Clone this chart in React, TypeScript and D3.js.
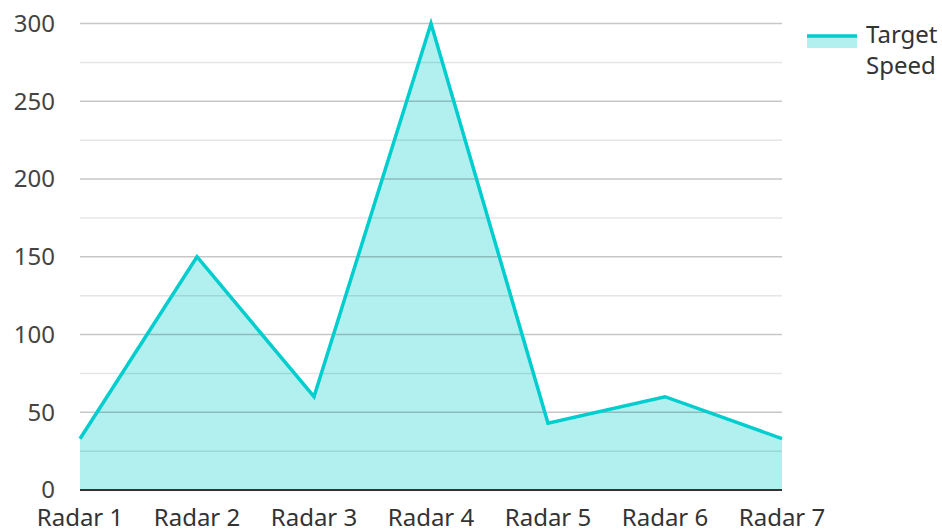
import * as d3 from "d3";

const categories = ["Radar 1", "Radar 2", "Radar 3", "Radar 4", "Radar 5", "Radar 6", "Radar 7"];
const speeds = [33, 150, 60, 300, 43, 60, 33];
const majorTicks = [0, 50, 100, 150, 200, 250, 300];
const minorTicks = [25, 75, 125, 175, 225, 275];
const seriesName = ["Target", "Speed"];

export default function App() {
    const width = 942;
    const height = 531;
    const marginLeft = 80;
    const marginRight = 160;
    const marginTop = 23.5;
    const marginBottom = 41;
    const color = "#00cdce";

    const x = d3.scalePoint(categories, [marginLeft, width - marginRight]);
    const y = d3.scaleLinear([0, 300], [height - marginBottom, marginTop]);
    const area = d3.area((_, i) => x(categories[i]), y(0), (d) => y(d));
    const line = d3.line((_, i) => x(categories[i]), (d) => y(d));
    const font = "'Noto Sans', 'Open Sans', sans-serif";

    return (
        <svg width={width} height={height} style={{ position: "absolute", left: 0, top: 0 }} fontFamily={font}>
            <path d={area(speeds)} fill={color} fillOpacity={0.3} />
            <g strokeWidth={1.5}>
                {minorTicks.map((t) => (
                    <line key={t} x1={marginLeft} x2={width - marginRight} y1={y(t)} y2={y(t)} stroke="#000" strokeOpacity={0.1} />
                ))}
                {majorTicks.slice(1).map((t) => (
                    <line key={t} x1={marginLeft} x2={width - marginRight} y1={y(t)} y2={y(t)} stroke="#000" strokeOpacity={0.22} />
                ))}
            </g>
            <line x1={marginLeft} x2={width - marginRight} y1={y(0)} y2={y(0)} stroke="#333" strokeWidth={2} />
            <path d={line(speeds)} fill="none" stroke={color} strokeWidth={3.5} strokeLinejoin="miter" />
            <g fontSize={24} fill="#444" textAnchor="end">
                {majorTicks.map((t) => (
                    <text key={t} x={55} y={y(t)} dy="0.35em">{t}</text>
                ))}
            </g>
            <g fontSize={24} fill="#333" textAnchor="middle">
                {categories.map((c) => (
                    <text key={c} x={x(c)} y={height - 5}>{c}</text>
                ))}
            </g>
            <g>
                <rect x={807} y={35} width={50} height={13} fill={color} fillOpacity={0.3} />
                <line x1={807} x2={857} y1={36} y2={36} stroke={color} strokeWidth={3.5} />
                {seriesName.map((s, i) => (
                    <text key={s} x={866} y={43 + i * 31} fontSize={24} fill="#333">{s}</text>
                ))}
            </g>
        </svg>
    );
}
